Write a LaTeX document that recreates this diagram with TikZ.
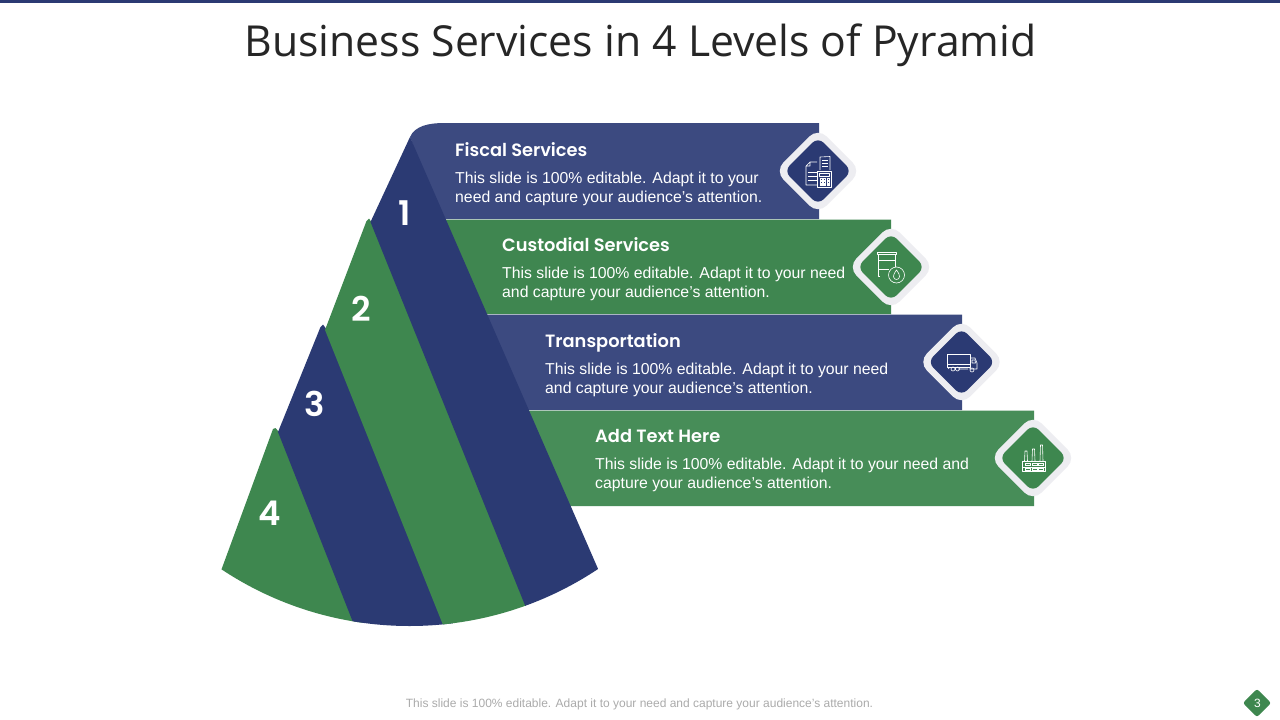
\documentclass[tikz,border=0pt]{standalone}
\usepackage{fontspec}
\setmainfont{Liberation Sans}
\newfontfamily\titlef{Open Sans}
\newfontfamily\headf{Poppins SemiBold}
\usetikzlibrary{calc}
\definecolor{navy}{HTML}{2B3A73}
\definecolor{navyl}{HTML}{3C4A80}
\definecolor{grn}{HTML}{3E874F}
\definecolor{grnb}{HTML}{3F8650}
\definecolor{grnl}{HTML}{478D58}
\definecolor{halo}{HTML}{EDEDF1}
\tikzset{
  x=1pt,y=-1pt,
  bartitle/.style={anchor=base west,text=white,inner sep=0pt,font=\headf\fontsize{17.8}{18}\selectfont},
  barbody/.style={anchor=north west,text=white,inner sep=0pt,align=left,font=\fontsize{15.8}{19}\selectfont},
  num/.style={text=white,inner sep=0pt,font=\headf\fontsize{34}{34}\selectfont},
  halod/.style={rectangle,fill=halo,rounded corners=12pt,minimum size=61pt,rotate=45,inner sep=0pt},
  innerd/.style={rectangle,rounded corners=8pt,minimum size=48pt,rotate=45,inner sep=0pt},
  ic/.style={draw=white,line width=0.6pt,line join=round},
  icf/.style={draw=white,line width=0.35pt},
}
\begin{document}
\begin{tikzpicture}
\useasboundingbox (0,0) rectangle (1280,720);
\fill[white] (0,0) rectangle (1280,720);
\fill[navy] (0,0) rectangle (1280,3);
\node[inner sep=0pt,text=black!85,font=\titlef\fontsize{42.7}{42.7}\selectfont] (title) at (640.5,45.5) {Business Services in 4 Levels of Pyramid};
% bars
\fill[navyl] (410,137) .. controls (415,126) and (428,123) .. (445,123) -- (819,123) -- (819,219) -- (440,219) -- cycle;
\fill[grnb] (440,219.7) -- (891,219.7) -- (891,314) -- (480,314) -- cycle;
\fill[navyl] (480,314.7) -- (962,314.7) -- (962,410) -- (520,410) -- cycle;
\fill[grnl] (520,410.7) -- (1034,410.7) -- (1034,506) -- (560,506) -- cycle;
% pyramid
\begin{scope}
\clip (409.5,286) circle[radius=340];
\fill[grn] (273,429) -- (275.5,428) -- (279,432) -- (370,640) -- (195.6,640) -- cycle;
\fill[navy] (320.5,327) -- (323,324.5) -- (327,330) -- (460,640) -- (360,640) -- (278,432) -- cycle;
\fill[grn] (366.5,221) -- (369,218.5) -- (372,223) -- (540,640) -- (449,640) -- (325,330) -- cycle;
\fill[navy] (410,137) -- (370.5,222) -- (539,640) -- (629,640) -- cycle;
\end{scope}
\node[num] (n1) at (405,213) {1};
\node[num] (n2) at (361.5,309) {2};
\node[num] (n3) at (315,404) {3};
\node[num] (n4) at (270,513) {4};
% texts
\node[bartitle] (t1) at (455,156) {Fiscal Services};
\node[barbody] (b1) at (455,172) {This slide is 100\% editable. Adapt it to your\\need and capture your audience’s attention.};
\node[bartitle] (t2) at (502,251) {Custodial Services};
\node[barbody] (b2) at (502,267) {This slide is 100\% editable. Adapt it to your need\\and capture your audience’s attention.};
\node[bartitle] (t3) at (545,347) {Transportation};
\node[barbody] (b3) at (545,363) {This slide is 100\% editable. Adapt it to your need\\and capture your audience’s attention.};
\node[bartitle] (t4) at (595,442) {Add Text Here};
\node[barbody] (b4) at (595,458) {This slide is 100\% editable. Adapt it to your need and\\capture your audience’s attention.};
% diamonds
\node[halod] (h1) at (818,171) {};
\node[innerd,fill=navy] (d1) at (818,171) {};
\node[halod] (h2) at (891,267) {};
\node[innerd,fill=grn] (d2) at (891,267) {};
\node[halod] (h3) at (961.5,362) {};
\node[innerd,fill=navy] (d3) at (961.5,362) {};
\node[halod] (h4) at (1033,458) {};
\node[innerd,fill=grn] (d4) at (1033,458) {};
% icon 1
\draw[ic] (806,166) -- (810,162) -- (817,162) (806,166) -- (806,185) -- (817,185) (806,166) -- (810,166) -- (810,162);
\draw[ic] (807.5,172) -- (817,172) (807.5,176) -- (817,176) (807.5,180) -- (817,180);
\draw[ic] (820,170) -- (820,157) -- (830,156.5) -- (830,170);
\draw[ic] (822,160) -- (828,160) (822,163) -- (828,163) (822,166) -- (828,166);
\draw[ic] (817.5,171) rectangle (831.5,187);
\draw[ic] (819.5,173) rectangle (829.5,176.5);
\foreach \i in {0,1,2}{\foreach \j in {0,1,2}{\draw[icf] ($(820+\i*3.5,178.5+\j*2.7)$) rectangle ++(2,1.5);}}
% icon 2
\draw[ic] (880,276) -- (878,276) -- (878,254) -- (895,254) -- (895,267);
\draw[ic] (877,252) rectangle (896,254);
\draw[ic] (878,260) -- (895,260) (878,269) -- (889,269);
\draw[ic] (896.5,275) circle[radius=8];
\draw[ic] (896.5,270) .. controls (894,273.5) and (893.5,275) .. (893.5,276.5) .. controls (893.5,280.5) and (899.5,280.5) .. (899.5,276.5) .. controls (899.5,275) and (899,273.5) .. (896.5,270) -- cycle;
% icon 3
\draw[ic] (947.5,354.5) rectangle (970,367);
\draw[ic] (947.5,364) -- (970,364);
\draw[ic] (970,358) -- (975,358) -- (977,363) -- (977,369) -- (970,369) -- (970,367);
\draw[ic] (972,360) -- (975,360) -- (975.5,363) -- (972,363) -- cycle;
\draw[ic] (947.5,367) -- (949,369) (958,369) -- (968,369);
\draw[ic] (953,369) circle[radius=2] (957.5,369) circle[radius=2] (972,370) circle[radius=2];
% icon 4
\draw[ic] (1022.5,461) rectangle (1045,471);
\draw[ic] (1022.5,467) -- (1045,467);
\draw[ic] (1024.5,461) -- (1025,451) -- (1027,451) -- (1027.5,461);
\draw[ic] (1032,461) -- (1032.5,449) -- (1034.5,449) -- (1035,461);
\draw[ic] (1040,461) -- (1040.5,445) -- (1042.5,445) -- (1043,461);
\foreach \i in {0,1,2}{\draw[icf] ($(1025+\i*6.7,463)$) rectangle ++(5,2.5);
  \draw[icf] ($(1025+\i*6.7,468.2)$) rectangle ++(5,1.5);}
% footer
\node[inner sep=0pt,text=black!33,font=\fontsize{12}{12}\selectfont] (foot) at (639.5,704.5) {This slide is 100\% editable. Adapt it to your need and capture your audience’s attention.};
\node[rectangle,rounded corners=2.5pt,minimum size=20pt,rotate=45,fill=grn,inner sep=0pt] (pg) at (1257,703) {};
\node[inner sep=0pt,text=white,font=\fontsize{12}{12}\selectfont] (pgn) at (1257.5,703) {3};
\end{tikzpicture}
\end{document}
